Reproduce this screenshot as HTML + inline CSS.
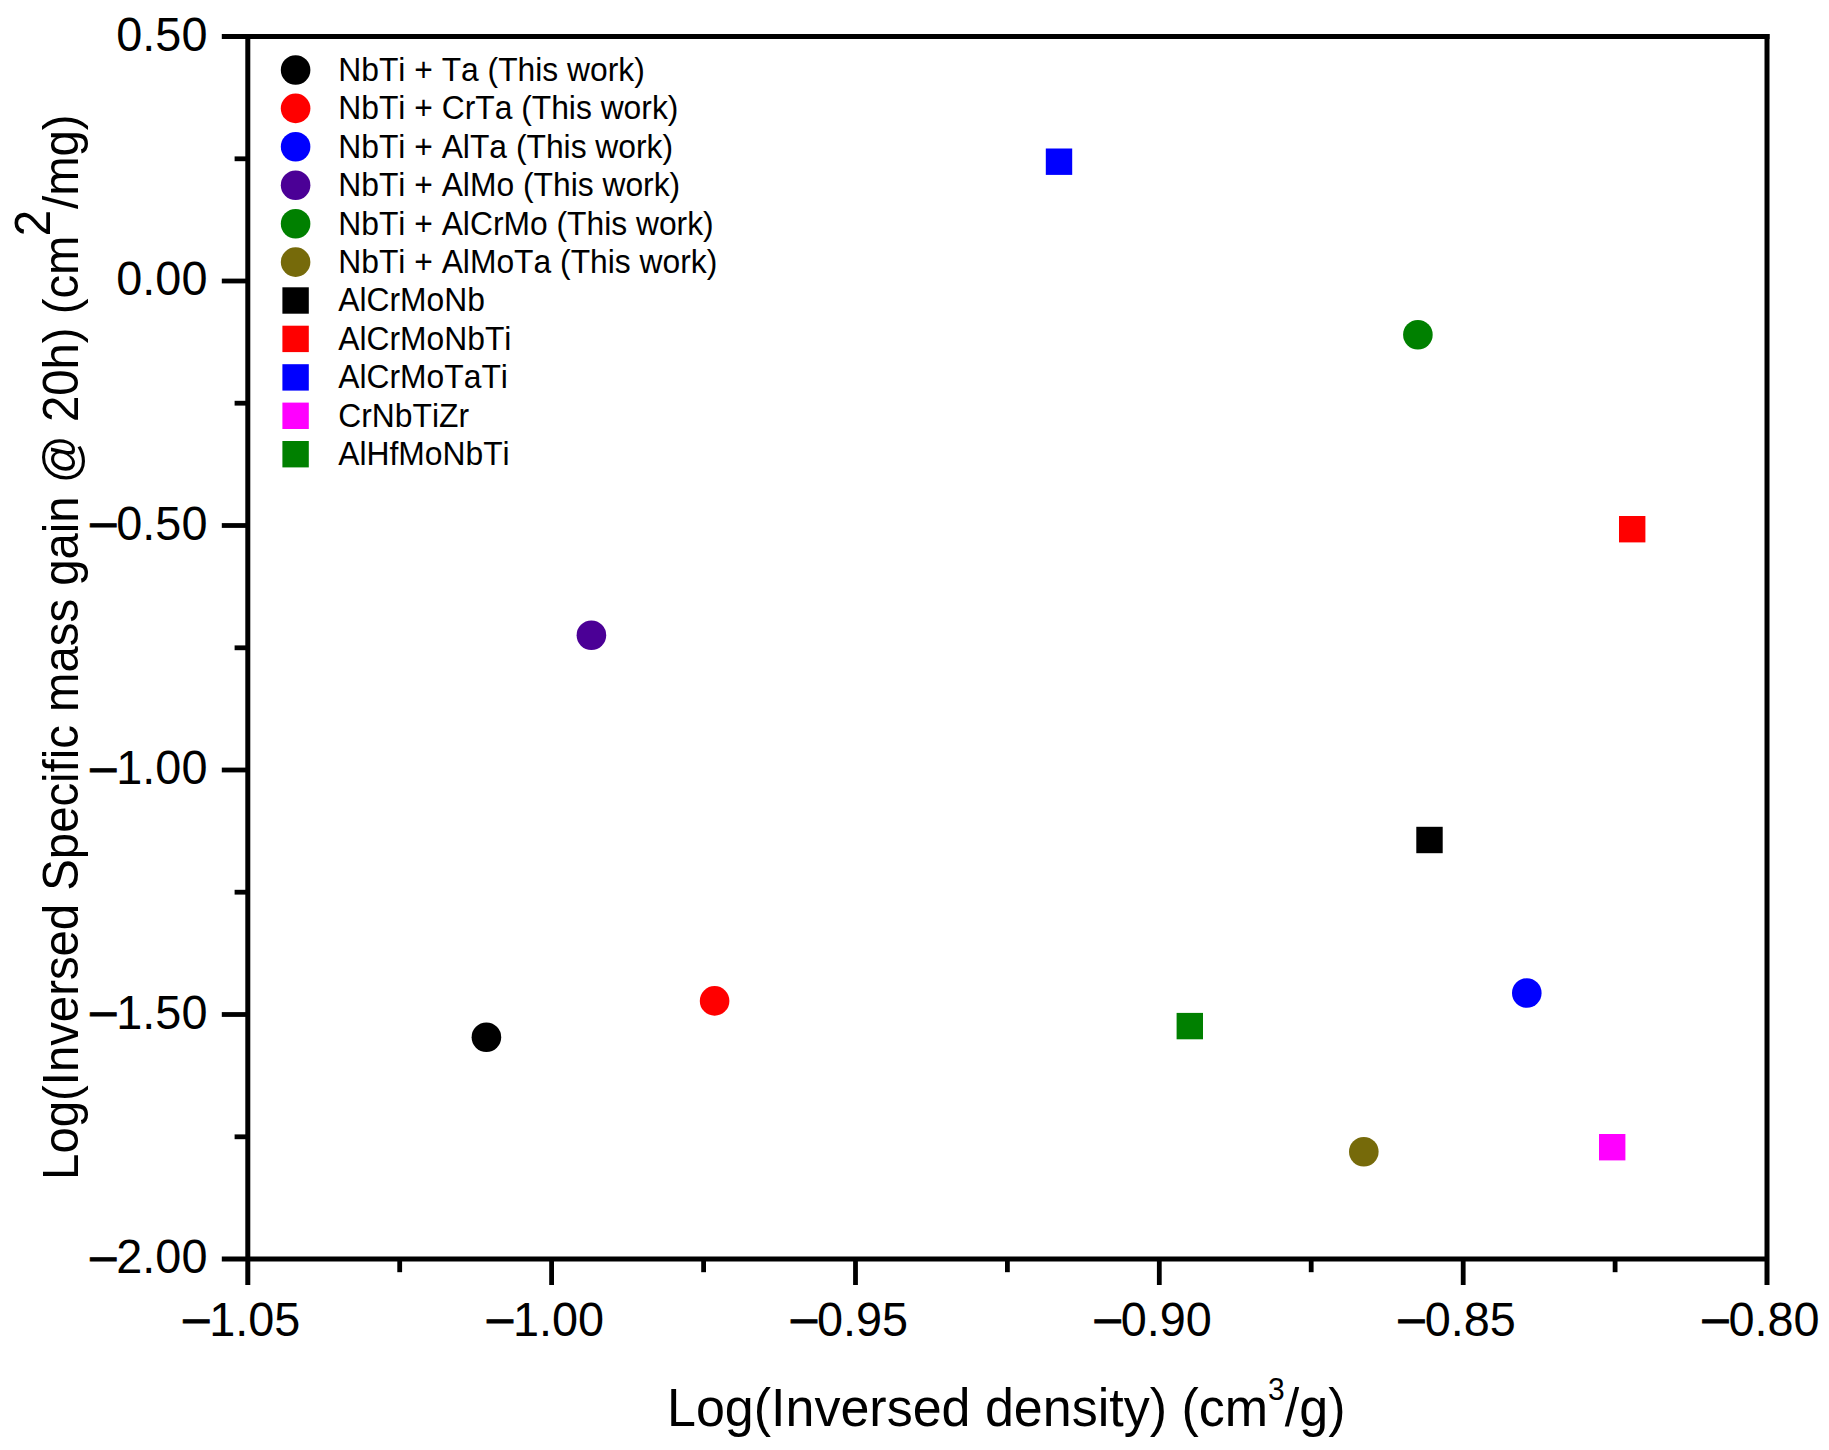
<!DOCTYPE html>
<html lang="en">
<head>
<meta charset="utf-8">
<title>Log(Inversed Specific mass gain) vs Log(Inversed density)</title>
<style>
html,body{margin:0;padding:0;background:#fff;}
body{width:1829px;height:1450px;overflow:hidden;}
svg{display:block;}
text{font-family:"Liberation Sans",Arial,Helvetica,sans-serif;fill:#000;font-kerning:none;font-variant-ligatures:none;}
.tick{font-size:46.8px;}
.leg{font-size:31.8px;}
.xt{font-size:52px;}
.yt{font-size:47.3px;}
.ax{stroke:#000;stroke-width:5.0;fill:none;}
</style>
</head>
<body>
<svg width="1829" height="1450" viewBox="0 0 1829 1450">
<rect x="0" y="0" width="1829" height="1450" fill="#ffffff"/>

<g class="ax">
<path d="M221.8 36.5 H1769.5"/>
<path d="M247.8 36.5 V1285.0"/>
<path d="M1767.0 34.0 V1285.0"/>
<path d="M221.8 1259.0 H1767.0"/>
<path d="M234.6 158.8 H247.8" stroke-width="4.8"/>
<path d="M221.8 281.0 H247.8" stroke-width="4.8"/>
<path d="M234.6 403.2 H247.8" stroke-width="4.8"/>
<path d="M221.8 525.5 H247.8" stroke-width="4.8"/>
<path d="M234.6 647.8 H247.8" stroke-width="4.8"/>
<path d="M221.8 770.0 H247.8" stroke-width="4.8"/>
<path d="M234.6 892.2 H247.8" stroke-width="4.8"/>
<path d="M221.8 1014.5 H247.8" stroke-width="4.8"/>
<path d="M234.6 1136.8 H247.8" stroke-width="4.8"/>
<path d="M399.7 1259.0 V1272.2" stroke-width="4.8"/>
<path d="M551.6 1259.0 V1285.0" stroke-width="4.8"/>
<path d="M703.6 1259.0 V1272.2" stroke-width="4.8"/>
<path d="M855.5 1259.0 V1285.0" stroke-width="4.8"/>
<path d="M1007.4 1259.0 V1272.2" stroke-width="4.8"/>
<path d="M1159.3 1259.0 V1285.0" stroke-width="4.8"/>
<path d="M1311.2 1259.0 V1272.2" stroke-width="4.8"/>
<path d="M1463.2 1259.0 V1285.0" stroke-width="4.8"/>
<path d="M1615.1 1259.0 V1272.2" stroke-width="4.8"/>
</g>
<g class="tick">
<text transform="translate(207.4 50.9) scale(1 1.04)" text-anchor="end">0.50</text>
<text transform="translate(207.4 295.4) scale(1 1.04)" text-anchor="end">0.00</text>
<text transform="translate(207.4 539.9) scale(1 1.04)" text-anchor="end"><tspan dy="-1.6" stroke="#000" stroke-width="0.9">–</tspan><tspan dy="1.6">0.50</tspan></text>
<text transform="translate(207.4 784.4) scale(1 1.04)" text-anchor="end"><tspan dy="-1.6" stroke="#000" stroke-width="0.9">–</tspan><tspan dy="1.6">1.00</tspan></text>
<text transform="translate(207.4 1028.9) scale(1 1.04)" text-anchor="end"><tspan dy="-1.6" stroke="#000" stroke-width="0.9">–</tspan><tspan dy="1.6">1.50</tspan></text>
<text transform="translate(207.4 1273.4) scale(1 1.04)" text-anchor="end"><tspan dy="-1.6" stroke="#000" stroke-width="0.9">–</tspan><tspan dy="1.6">2.00</tspan></text>
<text transform="translate(183.2 1335.6) scale(1 1.04)"><tspan dy="-1.6" stroke="#000" stroke-width="0.9">–</tspan><tspan dy="1.6">1.05</tspan></text>
<text transform="translate(487.0 1335.6) scale(1 1.04)"><tspan dy="-1.6" stroke="#000" stroke-width="0.9">–</tspan><tspan dy="1.6">1.00</tspan></text>
<text transform="translate(790.9 1335.6) scale(1 1.04)"><tspan dy="-1.6" stroke="#000" stroke-width="0.9">–</tspan><tspan dy="1.6">0.95</tspan></text>
<text transform="translate(1094.7 1335.6) scale(1 1.04)"><tspan dy="-1.6" stroke="#000" stroke-width="0.9">–</tspan><tspan dy="1.6">0.90</tspan></text>
<text transform="translate(1398.6 1335.6) scale(1 1.04)"><tspan dy="-1.6" stroke="#000" stroke-width="0.9">–</tspan><tspan dy="1.6">0.85</tspan></text>
<text transform="translate(1702.4 1335.6) scale(1 1.04)"><tspan dy="-1.6" stroke="#000" stroke-width="0.9">–</tspan><tspan dy="1.6">0.80</tspan></text>
</g>
<text class="xt" transform="translate(667.0 1425.8) scale(1 1.04)">Log(Inversed density) (cm<tspan font-size="30" dy="-24.6">3</tspan><tspan dy="24.6">/g)</tspan></text>
<text class="yt" transform="translate(78.2 1179.9) rotate(-90) scale(1 1.04)">Log(Inversed Specific mass gain @ 20h) (cm<tspan dy="-27.4" dx="-0.8">2</tspan><tspan dy="27.4" dx="1.0">/mg)</tspan></text>
<g class="leg">
<circle cx="295.6" cy="70.0" r="14.8" fill="#000000"/>
<text transform="translate(338.3 80.9) scale(1 1.04)">NbTi + Ta (This work)</text>
<circle cx="295.6" cy="108.4" r="14.8" fill="#ff0000"/>
<text transform="translate(338.3 119.3) scale(1 1.04)">NbTi + CrTa (This work)</text>
<circle cx="295.6" cy="146.8" r="14.8" fill="#0000ff"/>
<text transform="translate(338.3 157.7) scale(1 1.04)">NbTi + AlTa (This work)</text>
<circle cx="295.6" cy="185.3" r="14.8" fill="#4b0096"/>
<text transform="translate(338.3 196.2) scale(1 1.04)">NbTi + AlMo (This work)</text>
<circle cx="295.6" cy="223.7" r="14.8" fill="#008000"/>
<text transform="translate(338.3 234.6) scale(1 1.04)">NbTi + AlCrMo (This work)</text>
<circle cx="295.6" cy="262.1" r="14.8" fill="#766a0a"/>
<text transform="translate(338.3 273.0) scale(1 1.04)">NbTi + AlMoTa (This work)</text>
<rect x="282.4" y="287.3" width="26.4" height="26.4" fill="#000000"/>
<text transform="translate(338.3 311.4) scale(1 1.04)">AlCrMoNb</text>
<rect x="282.4" y="325.7" width="26.4" height="26.4" fill="#ff0000"/>
<text transform="translate(338.3 349.8) scale(1 1.04)">AlCrMoNbTi</text>
<rect x="282.4" y="364.2" width="26.4" height="26.4" fill="#0000ff"/>
<text transform="translate(338.3 388.3) scale(1 1.04)">AlCrMoTaTi</text>
<rect x="282.4" y="402.6" width="26.4" height="26.4" fill="#ff00ff"/>
<text transform="translate(338.3 426.7) scale(1 1.04)">CrNbTiZr</text>
<rect x="282.4" y="441.0" width="26.4" height="26.4" fill="#008000"/>
<text transform="translate(338.3 465.1) scale(1 1.04)">AlHfMoNbTi</text>
</g>
<g>
<circle cx="486.4" cy="1037.3" r="14.8" fill="#000000"/>
<circle cx="714.6" cy="1000.9" r="14.8" fill="#ff0000"/>
<circle cx="1526.8" cy="993.0" r="14.8" fill="#0000ff"/>
<circle cx="591.4" cy="635.2" r="14.8" fill="#4b0096"/>
<circle cx="1417.9" cy="334.8" r="14.8" fill="#008000"/>
<circle cx="1363.8" cy="1151.7" r="14.8" fill="#766a0a"/>
<rect x="1416.3" y="826.8" width="26.4" height="26.4" fill="#000000"/>
<rect x="1619.0" y="516.0" width="26.4" height="26.4" fill="#ff0000"/>
<rect x="1045.8" y="148.5" width="26.4" height="26.4" fill="#0000ff"/>
<rect x="1599.0" y="1134.0" width="26.4" height="26.4" fill="#ff00ff"/>
<rect x="1176.6" y="1012.9" width="26.4" height="26.4" fill="#008000"/>
</g>
</svg>
</body>
</html>
